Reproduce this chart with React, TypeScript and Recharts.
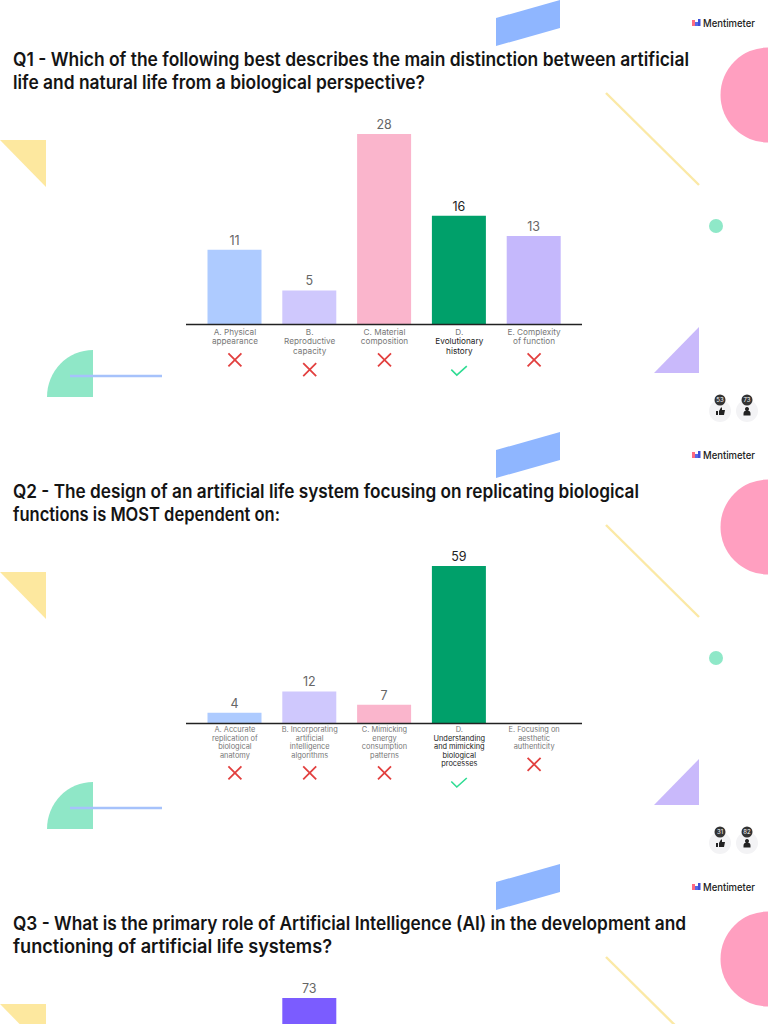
import React from "react";
import { BarChart, Bar, XAxis, YAxis, Cell, LabelList } from "recharts";

const q1Title = ["Q1 - Which of the following best describes the main distinction between artificial", "life and natural life from a biological perspective?"];
const q2Title = ["Q2 - The design of an artificial life system focusing on replicating biological", "functions is MOST dependent on:"];
const q3Title = ["Q3 - What is the primary role of Artificial Intelligence (AI) in the development and", "functioning of artificial life systems?"];

const q1Labels = [["A. Physical", "appearance"], ["B.", "Reproductive", "capacity"], ["C. Material", "composition"], ["D.", "Evolutionary", "history"], ["E. Complexity", "of function"]];
const q1Values = [11, 5, 28, 16, 13];
const q1Colors = ["#aecbff", "#cfc8fd", "#fab5cc", "#00a06a", "#c5b8fc"];
const q1Correct = 3;

const q2Labels = [["A. Accurate", "replication of", "biological", "anatomy"], ["B. Incorporating", "artificial", "intelligence", "algorithms"], ["C. Mimicking", "energy", "consumption", "patterns"], ["D.", "Understanding", "and mimicking", "biological", "processes"], ["E. Focusing on", "aesthetic", "authenticity"]];
const q2Values = [4, 12, 7, 59, 0];
const q2Colors = q1Colors;
const q2Correct = 3;

const q3Labels = [[""], [""], [""], [""], [""]];
const q3Values: (number | null)[] = [null, 73, null, null, null];
const q3Colors = ["#7b5cff", "#7b5cff", "#7b5cff", "#7b5cff", "#7b5cff"];

const slideOffsets = [0, 432, 864];
const titleLayouts = [[676, 412], [626, 267], [673, 319]];
const titles = [q1Title, q2Title, q3Title];
const badges = [["53", "73"], ["31", "82"], null];

function Slide({ y, index }: { y: number; index: number }) {
  const title = titles[index];
  const badge = badges[index];
  return (
    <g transform={`translate(0 ${y})`}>
      <polygon points="496,18 560,0 560,28 496,46" fill="#8fb6ff" />
      <circle cx={768} cy={95} r={47.5} fill="#ff9fc0" />
      <line x1={606} y1={93} x2={699} y2={185} stroke="#fbe9a6" strokeWidth={2.4} />
      <circle cx={716} cy={226} r={7} fill="#8fe8c8" />
      <polygon points="654,373 699,373 699,327" fill="#c9b9fb" />
      <polygon points="0,140 46,140 46,187" fill="#fde89f" />
      <path d="M93,397 L47,397 A46,47 0 0 1 93,350 Z" fill="#8fe7c7" />
      <line x1={70} y1={376} x2={162} y2={376} stroke="#a6c2fb" strokeWidth={2.5} />
      <g>
        <rect x={692} y={20} width={3} height={6} fill="#ff6b81" />
        <rect x={695} y={22} width={3} height={4} fill="#5769e7" />
        <rect x={698} y={19} width={2.5} height={7} fill="#3b4fd8" />
        <text x={703} y={27} fontSize={11} fontWeight={500} fill="#222" fontFamily="Inter" textLength={52} lengthAdjust="spacingAndGlyphs">Mentimeter</text>
      </g>
      {title.map((t, i) => (
        <text key={i} x={13} y={66 + i * 23} fontSize={18.5} fontWeight={600} fill="#141414" fontFamily="Inter" textLength={titleLayouts[index][i]} lengthAdjust="spacingAndGlyphs">{t}</text>
      ))}
      {badge && badge.map((b, i) => {
        const cx = i === 0 ? 720 : 747;
        return (
          <g key={i}>
            <circle cx={cx} cy={411} r={11} fill="#f3f3f5" />
            <circle cx={cx} cy={400} r={5.5} fill="#333" />
            <text x={cx} y={402} fontSize={6} fill="#fff" textAnchor="middle" fontFamily="Inter">{b}</text>
            {i === 0 ? (
              <path d={`M${cx - 4},${411} h2 v4 h-2 z M${cx - 1},${411} l2,-3.5 h1 v2.5 h3 l-1,5 h-5 z`} fill="#222" />
            ) : (
              <path d={`M${cx},${407} a2,2 0 1 1 -0.01,0 z M${cx - 3.5},${415.5} v-2 a3,2.5 0 0 1 7,0 v2 z`} fill="#222" />
            )}
          </g>
        );
      })}
    </g>
  );
}

function makeTick(labels: string[][], correct: number, lineHeight: number, fontSize: number, markGap: number, textOffset: number) {
  return function Tick(props: any) {
    const { x, y, index } = props;
    const lines = labels[index] || [];
    const ok = index === correct;
    const markY = y + 1 + lines.length * lineHeight + markGap;
    return (
      <g>
        {lines.map((l, i) => (
          <text key={i} x={x} y={y + textOffset + i * lineHeight} fontSize={fontSize} textAnchor="middle" fontFamily="Inter" fill={ok && i > 0 ? "#222" : "#777"}>{l}</text>
        ))}
        {lines[0] !== "" && (ok ? (
          <path d={`M${x - 8},${markY} l5.5,5.5 l10,-9`} stroke="#2fdc93" strokeWidth={1.6} fill="none" />
        ) : (
          <path d={`M${x - 6.5},${markY - 6.5} l13,13 M${x + 6.5},${markY - 6.5} l-13,13`} stroke="#e2403f" strokeWidth={1.8} fill="none" />
        ))}
      </g>
    );
  };
}

function makeValueLabel(correctValue: number | null) {
  return function ValueLabel(props: any) {
    const { x, y, width, value } = props;
    if (value == null) return null;
    return (
      <text x={x + width / 2} y={y - 5} fontSize={12.5} textAnchor="middle" fontFamily="Inter" fill={value === correctValue ? "#222" : "#666"}>{value}</text>
    );
  };
}

function QuestionChart({ top, plotTop, plotHeight, labels, values, colors, correct, max, lineHeight, fontSize, markGap, textOffset }: any) {
  const data = values.map((v: number | null, i: number) => ({ name: String(i), value: v }));
  const margin = plotTop - top;
  return (
    <div style={{ position: "absolute", left: 186, top }}>
      <BarChart width={396} height={margin + plotHeight + 80} data={data} margin={{ top: margin, right: 0, bottom: 0, left: 0 }} barCategoryGap={0} style={{ overflow: "visible" }}>
        <YAxis hide domain={[0, max]} />
        <XAxis dataKey="name" interval={0} height={80} axisLine={{ stroke: "#222", strokeWidth: 1.4 }} tickLine={false} tickSize={0} padding={{ left: 11.5, right: 10.5 }} tick={makeTick(labels, correct, lineHeight, fontSize, markGap, textOffset)} />
        <Bar dataKey="value" barSize={54} isAnimationActive={false}>
          {data.map((_: any, i: number) => <Cell key={i} fill={colors[i]} />)}
          <LabelList dataKey="value" content={makeValueLabel(correct >= 0 ? values[correct] : null)} />
        </Bar>
      </BarChart>
    </div>
  );
}

export default function App() {
  return (
    <div style={{ position: "absolute", left: 0, top: 0, width: 768, height: 1024, overflow: "hidden", background: "#fff" }}>
      <svg width={768} height={1024} style={{ position: "absolute", left: 0, top: 0 }}>
        {slideOffsets.map((y, i) => <Slide key={i} y={y} index={i} />)}
      </svg>
      <QuestionChart top={104} plotTop={134} plotHeight={190.5} labels={q1Labels} values={q1Values} colors={q1Colors} correct={q1Correct} max={28} lineHeight={9.7} fontSize={8.2} markGap={13} textOffset={8} />
      <QuestionChart top={536} plotTop={566} plotHeight={157.5} labels={q2Labels} values={q2Values} colors={q2Colors} correct={q2Correct} max={59} lineHeight={8.6} fontSize={7.4} markGap={12} textOffset={6.5} />
      <QuestionChart top={968} plotTop={998} plotHeight={190} labels={q3Labels} values={q3Values} colors={q3Colors} correct={-1} max={73} lineHeight={9} fontSize={8} markGap={8} textOffset={8} />
    </div>
  );
}
